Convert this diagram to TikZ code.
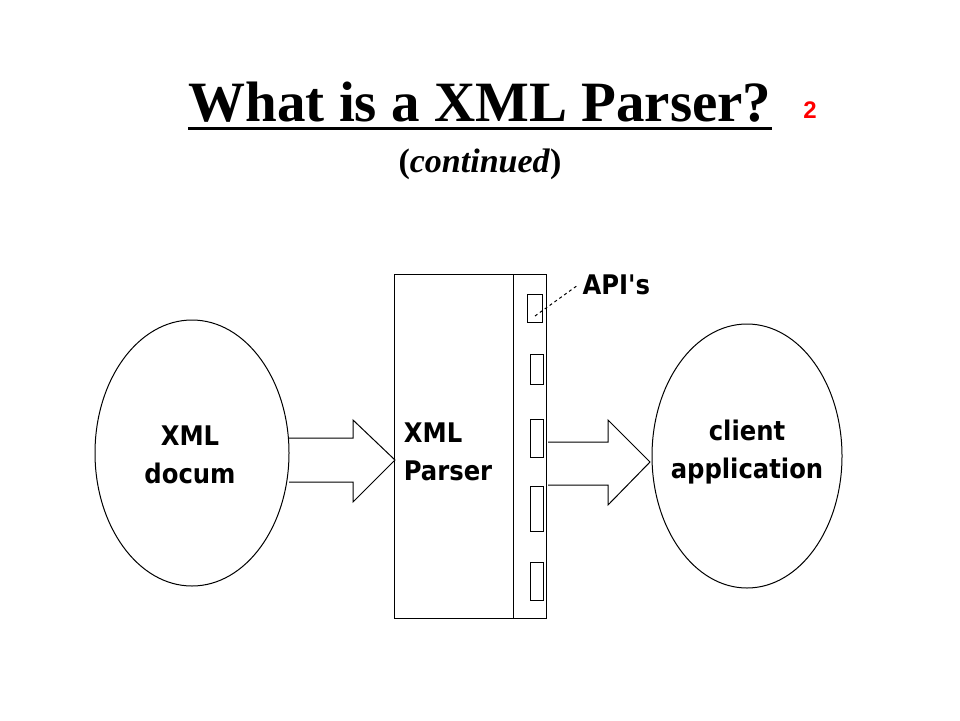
\documentclass[tikz,border=0pt]{standalone}
\usepackage{fontspec}
\setmainfont{Liberation Serif}
\newfontfamily\dfont{DejaVu Sans Condensed}
\newfontfamily\numfont{Liberation Sans}
\tikzset{every path/.style={line width=1pt}}
\tikzset{
  blob/.style={ellipse,draw,minimum width=194pt,minimum height=266pt,inner sep=0pt},
  api/.style={draw,minimum width=13pt,minimum height=30pt,inner sep=0pt},
  lbl/.style={font=\dfont\bfseries\fontsize{27}{38}\selectfont,align=center}
}
\usetikzlibrary{shapes.geometric}
\begin{document}
\begin{tikzpicture}[x=1pt,y=-1pt]
    \useasboundingbox (0,0) rectangle (960,720);
    \node[font=\bfseries\fontsize{57}{62}\selectfont,inner sep=0pt] (title) at (480,102) {What is a XML Parser?};
    \draw[line width=2.5pt] (title.south west)++(0,6) coordinate (ul) -- (ul -| title.south east);
    \node[font=\numfont\bfseries\fontsize{24}{28}\selectfont,color=red] (num) at (810,110) {2};
    \node[font=\bfseries\fontsize{34}{40}\selectfont] (sub) at (480,164) {(\textit{continued})};
    \node[blob] (doc) at (192,453) {};
    \node[lbl] at (190,455) {XML\\docum};
    \node[blob,minimum width=190pt,minimum height=264pt] (cli) at (747,456) {};
    \node[lbl] at (747,452) {client\\application};
    \node[draw,minimum width=119pt,minimum height=344pt,inner sep=0pt] (parser) at (453.5,446) {};
    \node[lbl,align=left,anchor=west] at (400,452) {XML\\Parser};
    \node[draw,minimum width=33pt,minimum height=344pt,inner sep=0pt] (strip) at (529.5,446) {};
    \node[api,minimum width=15pt,minimum height=28pt] (a1) at (535,308) {};
    \node[api] (a2) at (536.5,369) {};
    \node[api,minimum height=38pt] (a3) at (536.5,438) {};
    \node[api,minimum height=45pt] (a4) at (536.5,509) {};
    \node[api,minimum height=38pt] (a5) at (536.5,581) {};
    \node[lbl,anchor=west,inner sep=0pt] (apis) at (582,285) {API's};
    \draw[dashed] (a1.center)++(0,8) -- ([xshift=-4pt]apis.west);
    % big hollow arrows
    \draw (289,438) coordinate (l1) -- (353,438) -- (353,420) -- (395,460) coordinate (lt) -- (353,502) -- (353,482) -- (289,482);
    \draw (548,442) -- (608,442) -- (608,420) -- (650,462) coordinate (rt) -- (608,505) -- (608,485) -- (548,485);
\end{tikzpicture}
\end{document}
